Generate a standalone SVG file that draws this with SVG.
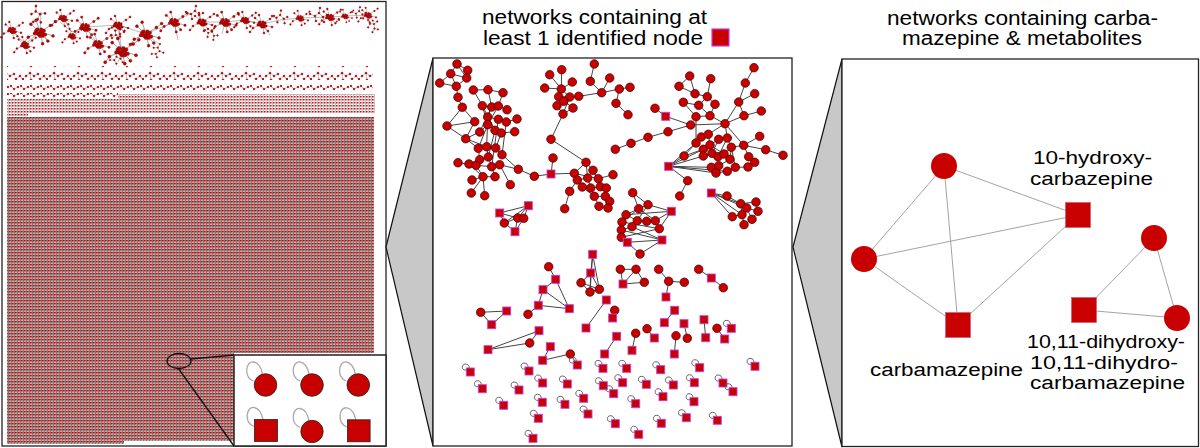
<svg xmlns="http://www.w3.org/2000/svg" xmlns:xlink="http://www.w3.org/1999/xlink" width="1200" height="448" viewBox="0 0 1200 448">
<style>
.t{font-family:"Liberation Sans",Arial,sans-serif;font-size:20px;fill:#000;text-anchor:middle}
.lb{font-size:18px}
.fr{fill:#fff;stroke:#222;stroke-width:1.3}
.tri{fill:#c8c8c8;stroke:#111;stroke-width:1.2}
.c{fill:#c80000;stroke:#3a0000;stroke-width:0.7}
.e{stroke:#444;stroke-width:1;fill:none}
.re{stroke:#999;stroke-width:0.9;fill:none}
.td{fill:#c80000;stroke:#6a0000;stroke-width:0.3}
.tl{stroke:#777;stroke-width:0.5;fill:none}
.bc{fill:#c80000}
.bs{fill:#c80000;stroke:#d06080;stroke-width:0.8}
.lp{fill:none;stroke:#aaa;stroke-width:1.3}
</style>
<defs>
<rect id="sq" x="-4" y="-4" width="8" height="8" fill="#c80000" stroke="#c040e0" stroke-width="0.9"/>
<g id="ls"><path d="M-4,-2 C-9,-1 -9,-8 -5,-8 C-2,-8 -1,-6 -1,-4" fill="none" stroke="#555" stroke-width="0.9"/><use href="#sq"/></g>
<pattern id="dg" width="3" height="3" patternUnits="userSpaceOnUse">
<rect width="3" height="3" fill="#eee"/><rect width="1.8" height="1.6" fill="#c00a0a"/><rect x="2" width="0.8" height="3" fill="#555"/><rect y="2.1" width="3" height="0.6" fill="#888"/>
</pattern>
<pattern id="lg" width="3" height="3" patternUnits="userSpaceOnUse">
<rect width="3" height="3" fill="#fff"/><rect width="1.6" height="1.5" fill="#c41010"/><rect x="2.2" width="0.5" height="3" fill="#888"/>
</pattern>
<pattern id="pr1" width="24" height="14" patternUnits="userSpaceOnUse">
<path class="tl" d="M2,6L6,3L10,6L14,4M6,3L7,10M16,9L20,6L23,9"/>
<g class="td"><circle cx="2" cy="6" r="1.1"/><circle cx="6" cy="3" r="1.1"/><circle cx="10" cy="6" r="1.1"/><circle cx="14" cy="4" r="1.1"/><circle cx="7" cy="10" r="1.1"/><circle cx="16" cy="9" r="1.1"/><circle cx="20" cy="6" r="1.1"/><circle cx="23" cy="9" r="1.1"/></g>
</pattern>
<pattern id="pr2" width="10" height="7" patternUnits="userSpaceOnUse">
<path class="tl" d="M1,2L4,5L8,3"/>
<g class="td"><circle cx="1" cy="2" r="1"/><circle cx="4" cy="5" r="1"/><circle cx="8" cy="3" r="1"/></g>
</pattern>
<g id="hub">
<path class="tl" d="M0,0L8,-5M0,0L10,3M0,0L-9,4M0,0L-7,-6M0,0L2,9M0,0L-3,-9M0,0L6,7M8,-5L12,-8M-9,4L-12,8M-2,1L3,-1M1,-2L0,3"/>
<g class="td"><circle cx="0" cy="0" r="1.3"/><circle cx="2" cy="1" r="1.3"/><circle cx="-2" cy="1" r="1.3"/><circle cx="1" cy="-2" r="1.3"/><circle cx="-1" cy="2" r="1.3"/><circle cx="3" cy="-1" r="1.3"/><circle cx="-3" cy="-1" r="1.3"/><circle cx="0" cy="3" r="1.3"/><circle cx="2" cy="3" r="1.3"/><circle cx="-2" cy="-2" r="1.3"/><circle cx="4" cy="2" r="1.3"/><circle cx="-4" cy="1" r="1.3"/><circle cx="8" cy="-5" r="1.1"/><circle cx="10" cy="3" r="1.1"/><circle cx="-9" cy="4" r="1.1"/><circle cx="-7" cy="-6" r="1.1"/><circle cx="2" cy="9" r="1.1"/><circle cx="-3" cy="-9" r="1.1"/><circle cx="6" cy="7" r="1.1"/><circle cx="12" cy="-8" r="1.1"/><circle cx="-12" cy="8" r="1.1"/></g>
</g>
<g id="tree">
<path class="tl" d="M0,0L5,2L9,-1L13,3L17,1M5,2L6,7M9,-1L10,-6M13,3L14,8"/>
<g class="td"><circle cx="0" cy="0" r="1.1"/><circle cx="5" cy="2" r="1.1"/><circle cx="9" cy="-1" r="1.1"/><circle cx="13" cy="3" r="1.1"/><circle cx="17" cy="1" r="1.1"/><circle cx="6" cy="7" r="1.1"/><circle cx="10" cy="-6" r="1.1"/><circle cx="14" cy="8" r="1.1"/></g>
</g>
</defs>
<rect width="1200" height="448" fill="#fff"/>

<!-- LEFT PANEL -->
<g id="all-networks">
<rect class="fr" x="2" y="1.5" width="384" height="444.5"/>
<g id="large-networks">
<path class="tl" d="M12,30L25,44L40,32L41,12M40,32L50,42M63,18L72,32L85,27L98,44M60,22L72,32M85,27L118,25L122,52M118,25L146,34L174,22L190,14M146,34L160,45M122,52L118,62M205,22L225,22L245,20L262,24L280,20L300,18L330,17L345,16L368,15M262,24L270,35M174,22L178,40M225,22L222,34"/>
<use href="#hub" transform="translate(12,30) scale(0.9)"/>
<use href="#hub" transform="translate(40,32) scale(1.3)"/>
<use href="#hub" transform="translate(25,45) scale(0.9)"/>
<use href="#hub" transform="translate(63,18) scale(0.9)"/>
<use href="#hub" transform="translate(85,27) scale(1.1)"/>
<use href="#hub" transform="translate(72,36) scale(0.8)"/>
<use href="#hub" transform="translate(98,44) scale(1.1)"/>
<use href="#hub" transform="translate(118,25) scale(1)"/>
<use href="#hub" transform="translate(122,51) scale(1.4)"/>
<use href="#hub" transform="translate(146,34) scale(1.3)"/>
<use href="#hub" transform="translate(174,22) scale(1.1)"/>
<use href="#hub" transform="translate(202,22) scale(1)"/>
<use href="#hub" transform="translate(225,22) scale(1.1)"/>
<use href="#hub" transform="translate(245,20) scale(0.9)"/>
<use href="#hub" transform="translate(262,24) scale(1)"/>
<use href="#hub" transform="translate(300,18) scale(0.8)"/>
<use href="#hub" transform="translate(330,17) scale(0.9)"/>
<use href="#hub" transform="translate(345,16) scale(0.7)"/>
<use href="#hub" transform="translate(368,15) scale(0.8)"/>
<use href="#tree" transform="translate(36,6) rotate(70)"/>
<use href="#tree" transform="translate(186,12)"/>
<use href="#tree" transform="translate(272,16) scale(0.9)"/>
<use href="#tree" transform="translate(310,14)"/>
<use href="#tree" transform="translate(352,12) scale(0.8)"/>
<use href="#tree" transform="translate(368,20) rotate(40) scale(0.8)"/>
<use href="#tree" transform="translate(112,38) rotate(-60) scale(0.9)"/>
<use href="#tree" transform="translate(160,44) rotate(100) scale(0.8)"/>
<use href="#tree" transform="translate(205,30) rotate(20) scale(0.8)"/>
<use href="#tree" transform="translate(110,60) rotate(-20) scale(0.8)"/>
</g>
<rect x="7" y="66" width="366" height="14" fill="url(#pr1)"/>
<rect x="7" y="84" width="366" height="8" fill="url(#pr2)"/>
<rect x="7" y="93" width="111" height="6" fill="url(#pr2)"/>
<rect x="118" y="94" width="257" height="5" fill="url(#lg)"/>
<rect x="7" y="99" width="368" height="14" fill="url(#lg)"/>
<rect x="7" y="113" width="21" height="3" fill="url(#lg)"/>
<path fill="url(#dg)" d="M7,117H374V353H234V441H124V444H7Z"/>
</g>

<g id="zoom-inset">
<ellipse cx="179" cy="361" rx="12" ry="7.5" fill="none" stroke="#111" stroke-width="1.3"/>
<path d="M191,359L234,355M178,368L234,446" stroke="#111" stroke-width="1.3" fill="none"/>
<rect x="234" y="355" width="152" height="91" fill="#fff" stroke="#222" stroke-width="1.5"/>
<g id="inset-n1" transform="translate(265.5,385)"><path class="lp" d="M-12,-4 C-22,-8 -20,-24 -12,-23 C-6,-22 -4,-16 -3,-11"/><circle class="bc" r="11.3" stroke="#222" stroke-width="0.8"/></g>
<g id="inset-n2" transform="translate(312,385)"><path class="lp" d="M-12,-4 C-22,-8 -20,-24 -12,-23 C-6,-22 -4,-16 -3,-11"/><circle class="bc" r="11.3" stroke="#222" stroke-width="0.8"/></g>
<g id="inset-n3" transform="translate(358.3,385)"><path class="lp" d="M-12,-4 C-22,-8 -20,-24 -12,-23 C-6,-22 -4,-16 -3,-11"/><circle class="bc" r="11.3" stroke="#222" stroke-width="0.8"/></g>
<g id="inset-n4" transform="translate(266,430.5)"><path class="lp" d="M-12,-4 C-22,-8 -20,-24 -12,-23 C-6,-22 -4,-16 -3,-11"/><rect x="-11.5" y="-11" width="23" height="22" fill="#c80000" stroke="#222" stroke-width="0.8"/></g>
<g id="inset-n5" transform="translate(312,431.5)"><path class="lp" d="M-12,-4 C-22,-8 -20,-24 -12,-23 C-6,-22 -4,-16 -3,-11"/><circle class="bc" r="11.2" stroke="#222" stroke-width="0.8"/></g>
<g id="inset-n6" transform="translate(358.8,430.8)"><path class="lp" d="M-12,-4 C-22,-8 -20,-24 -12,-23 C-6,-22 -4,-16 -3,-11"/><rect x="-11.3" y="-11" width="22.6" height="22" fill="#c80000" stroke="#222" stroke-width="0.8"/></g>
</g>

<!-- MIDDLE PANEL -->
<g id="identified-networks">
<polygon class="tri" points="386,247 433,58 433,446"/>
<rect class="fr" x="433" y="58" width="359" height="388"/>
<text class="t" x="594.5" y="24" textLength="225" lengthAdjust="spacingAndGlyphs">networks containing at</text>
<text class="t" x="593" y="44.5" textLength="220" lengthAdjust="spacingAndGlyphs">least 1 identified node</text>
<rect x="712" y="29" width="17" height="17" fill="#c80000" stroke="#c040e0" stroke-width="1.2"/>
<g id="mid-connectors">
<path class="e" d="M457,64L450.7,73.7M457,64L467.7,70.3M457,64L466.7,78M450.7,73.7L466.7,78M450.7,73.7L439.7,83M439.7,83L456.3,86.3M456.3,86.3L466.7,78M456.3,86.3L450.7,73.7M456.3,86.3L458,97.3M458,97.3L462.3,107.3M462.3,107.3L447,126M462.3,107.3L474.7,121.7M447,126L474.7,121.7M447,126L465.7,138.7M474.7,121.7L465.7,138.7M465.7,138.7L478.3,148.3M465.7,138.7L479.7,132M465.7,138.7L486.7,146.7
M473.3,90L488,89.7M488,89.7L503,92.7M473.3,90L482.3,105.7M488,89.7L491.7,107M503,92.7L498.3,106M482.3,105.7L491.7,107M491.7,107L498.3,106M498.3,106L507,109.7M491.7,107L487.7,117M487.7,117L498.3,119.3M498.3,119.3L506.3,122M506.3,122L517,119M487.7,124.7L495,130.3M495,130.3L501.3,133M501.3,133L514.7,131.7M487.7,117L487.7,124.7M482.3,105.7L487.7,124.7M479.7,132L487.7,124.7M486.7,146.7L478.3,148.3M486.7,146.7L495.7,148M478.3,148.3L479.7,159.7M486.7,146.7L488.3,157M495.7,148L502,154.7M488.3,157L479.7,159.7M479.7,159.7L469,164M479.7,159.7L476,165.3M488.3,157L491.7,166.7M491.7,166.7L499.7,164.7M499.7,164.7L518.3,169.3M476,165.3L483,176.7M483,176.7L495,176.7M483,176.7L472,180M483,176.7L471.3,193M483,176.7L484.7,195.7M458,162.7L476,165.3M510.3,184.7L499.7,164.7M518.3,169.3L534.3,176.3M534.3,176.3L551,174M551,174L553,158M551,174L574.3,173.3M487.7,117L486.7,146.7M495,130.3L488.3,157M498.3,119.3L491.7,166.7M487.7,124.7L478.3,148.3M501.3,133L495.7,148M506.3,122L502,154.7M491.7,107L479.7,132M476,165.3L491.7,166.7M469,164L483,176.7M495,176.7L491.7,166.7M502,154.7L518.3,169.3M482.3,105.7L495,130.3M498.3,106L487.7,124.7
M549.7,74.7L561.3,89M561.7,69.7L561.3,89M544.7,88L561.3,89M561.3,89L572.3,82M561.3,89L558.7,96.7M561.3,89L569.7,97M558.7,96.7L569.7,97M569.7,97L578.7,96.3M558.7,96.7L563.7,101.3M563.7,101.3L557,105.7M563.7,101.3L573,108M557,105.7L563,114M573,108L563,114M569.7,97L563,114M578.7,96.3L601.7,92.7M601.7,92.7L590.3,81.3M590.3,81.3L594.3,64M601.7,92.7L609.7,78M601.7,92.7L619.3,89M619.3,89L630,87.3M619.3,89L616,103.3M616,103.3L628,114.7M563,114L551,139.3M551,139.3L586,162.3M558.7,96.7L573,108M557,105.7L569.7,97
M586,162.3L574.3,173.3M586,162.3L587.7,178M586,162.3L593,170.3M574.3,173.3L577.3,180M577.3,180L587.7,178M587.7,178L593,170.3M593,170.3L598.3,178.7M598.3,178.7L600.3,186.7M587.7,178L590.7,188M590.7,188L582.3,187M582.3,187L577.3,180M590.7,188L600.3,186.7M600.3,186.7L606.3,188M606.3,188L605.3,196.3M605.3,196.3L594.3,196.3M594.3,196.3L590.7,188M605.3,196.3L609.7,201.3M605.3,196.3L608,208M594.3,196.3L599,206.3M599,206.3L608,208M598.3,178.7L613,174.7M577.3,180L569.7,191.3M569.7,191.3L564.7,208.7M574.3,173.3L598.3,178.7M582.3,187L594.3,196.3M593,170.3L600.3,186.7
M499.7,213L528.3,205.7M499.7,213L504.3,223M499.7,213L517.7,218M528.3,205.7L517.7,218M528.3,205.7L523.7,218.3M504.3,223L515,231.7M517.7,218L515,231.7M517.7,218L523.7,218.3M504.3,223L517.7,218M523.7,218.3L515,231.7M528.3,205.7L504.3,223
M615.3,149.3L631,143.3L648,137.3L668,131.7L690.7,125L725,123.7M655,108.3L665.7,116.3L690.7,125
M689.7,76L679,86.3M689.7,76L695,93.7M679,86.3L695,93.7M695,93.7L707.3,96.7M710.7,78.7L707.3,96.7M683.3,102.3L698.7,105.3M698.7,105.3L707.3,96.7M707.3,96.7L715,104.3M715,104.3L710,115.7M698.7,105.3L710,115.7M683.3,102.3L696,116.7M696,116.7L710,115.7M710,115.7L725,123.7M754,67.7L745.3,83M745.3,83L738.7,102M754.7,93.7L738.7,102M738.7,102L725,123.7M761.3,111L744,115.7M744,115.7L725,123.7M738.7,102L744,115.7M725,123.7L743.7,145.3M725,123.7L727.3,138M725,123.7L708.3,134.3M696,116.7L696,143M743.7,145.3L759.7,136.3M743.7,145.3L765.7,149.7M765.7,149.7L783,155.3M743.7,145.3L748.7,156.7M748.7,156.7L754.7,162.3M754.7,162.3L748,167M748,167L735.3,167.3M735.3,167.3L727.3,171.3M727.3,171.3L716,173M716,173L711.3,167.3M711.3,167.3L718.7,165.7M718.7,165.7L730,159.3M730,159.3L724,154M724,154L718,156.7M718,156.7L712,153.3M712,153.3L703.3,156M703.3,156L703.3,149.3M703.3,149.3L710,145M710,145L708.3,134.3M708.3,134.3L701.3,137M701.3,137L696,143M718.7,139.3L727.3,138M718.7,139.3L710,145M727.3,138L731.3,147.3M731.3,147.3L743.7,145.3M731.3,147.3L730,159.3M731.3,147.3L724,154M684,156L696,143M684,156L703.3,149.3M710,145L724,154M718.7,139.3L712,153.3M727.3,138L718,156.7M735.3,167.3L731.3,147.3
M668.7,166.3L684,156M668.7,166.3L703.3,156M668.7,166.3L711.3,167.3M668.7,166.3L716,173M668.7,166.3L727.3,171.3M668.7,166.3L703.3,149.3M668.7,166.3L696,143M668.7,166.3L687.7,180.7L679.7,196
M632.7,192.7L638.7,208.7M632.7,192.7L648,204.7M638.7,208.7L648,204.7M638.7,208.7L626,214.7M626,214.7L622,222M626,214.7L637.3,220.7M637.3,220.7L646.7,221.3M646.7,221.3L655.3,220.7M648,204.7L671.3,211.3M655.3,220.7L671.3,211.3M659.3,228.7L671.3,211.3M622,222L621.3,230M621.3,230L621.3,237.3M632,226.7L637.3,220.7M632,226.7L621.3,230M627.3,242.3L621.3,237.3M627.3,242.3L640,254M640,254L662,240M627.3,242.3L662,240M621.3,230L662,240M622,222L659.3,228.7M632,226.7L662,240M621.3,237.3L659.3,228.7M638.7,208.7L655.3,220.7M648,204.7L637.3,220.7M626,214.7L671.3,211.3M622,222L638.7,208.7
M711.3,193L727,196M711.3,193L740.7,203.7M711.3,193L742,214.7M711.3,193L732.3,216.7M711.3,193L746.7,208M727,196L740.7,203.7M740.7,203.7L756,202M756,202L758,211.3M758,211.3L752,219.3M752,219.3L744,224.7M744,224.7L742,214.7M742,214.7L732.3,216.7M746.7,208L740.7,203.7M746.7,208L742,214.7M746.7,208L758,211.3M746.7,208L752,219.3M740.7,203.7L742,214.7
M592.7,254.3L590.7,273M592.7,254.3L590,292M592.7,254.3L599.3,289.3M590.7,273L581,282.7M590.7,273L590,292M590.7,273L599.3,289.3M581,282.7L590,292M581,282.7L599.3,289.3M590,292L599.3,289.3
M548.7,266.7L555.7,279.3M555.7,279.3L543,289.7M555.7,279.3L569.3,308.7M543,289.7L538.3,305.3M543,289.7L569.3,308.7M538.3,305.3L569.3,308.7M538.3,305.3L528,314.3
M480.7,312.3L506.7,311M480.7,312.3L491.7,324.7M506.7,311L491.7,324.7M539,330.7L529.7,343M539,330.7L488,349.7M529.7,343L488,349.7M550.3,346.7L542.7,360.3M542.7,360.3L570.3,354M570.3,354L577.3,365M606.3,300L586,328
M620.3,269.3L636,269.3M620.3,269.3L623,284M636,269.3L623,284M636,269.3L644.3,282.3M623,284L644.3,282.3M658.7,269.3L668.7,281.3M668.7,281.3L684.3,282.3M668.7,281.3L666,297M698.7,269.3L711.3,278M711.3,278L723.3,287.7M614.7,310.3L612.7,318M674.7,310.3L664.3,322.7M684,323.7L687.3,338.3M704,319.7L705.7,337.7M717,328.3L724.7,339M635.7,333.3L632,350.3M647,328.7L654.3,338M676,335.7L674.3,354M616.7,336.3L604.7,354"/>
</g>
<g id="mid-circles">
<g class="c">
<circle cx="457" cy="64" r="4.3"/><circle cx="450.7" cy="73.7" r="4.3"/><circle cx="467.7" cy="70.3" r="4.3"/><circle cx="466.7" cy="78" r="4.3"/><circle cx="439.7" cy="83" r="4.3"/><circle cx="456.3" cy="86.3" r="4.3"/><circle cx="458" cy="97.3" r="4.3"/><circle cx="462.3" cy="107.3" r="4.3"/><circle cx="447" cy="126" r="4.3"/><circle cx="474.7" cy="121.7" r="4.3"/><circle cx="465.7" cy="138.7" r="4.3"/>
<circle cx="473.3" cy="90" r="4.3"/><circle cx="488" cy="89.7" r="4.3"/><circle cx="503" cy="92.7" r="4.3"/><circle cx="482.3" cy="105.7" r="4.3"/><circle cx="491.7" cy="107" r="4.3"/><circle cx="498.3" cy="106" r="4.3"/><circle cx="507" cy="109.7" r="4.3"/><circle cx="487.7" cy="117" r="4.3"/><circle cx="498.3" cy="119.3" r="4.3"/><circle cx="506.3" cy="122" r="4.3"/><circle cx="517" cy="119" r="4.3"/><circle cx="487.7" cy="124.7" r="4.3"/><circle cx="495" cy="130.3" r="4.3"/><circle cx="501.3" cy="133" r="4.3"/><circle cx="514.7" cy="131.7" r="4.3"/><circle cx="479.7" cy="132" r="4.3"/><circle cx="478.3" cy="148.3" r="4.3"/><circle cx="486.7" cy="146.7" r="4.3"/><circle cx="495.7" cy="148" r="4.3"/><circle cx="502" cy="154.7" r="4.3"/><circle cx="488.3" cy="157" r="4.3"/><circle cx="479.7" cy="159.7" r="4.3"/><circle cx="469" cy="164" r="4.3"/><circle cx="476" cy="165.3" r="4.3"/><circle cx="491.7" cy="166.7" r="4.3"/><circle cx="499.7" cy="164.7" r="4.3"/><circle cx="458" cy="162.7" r="4.3"/><circle cx="483" cy="176.7" r="4.3"/><circle cx="495" cy="176.7" r="4.3"/><circle cx="472" cy="180" r="4.3"/><circle cx="518.3" cy="169.3" r="4.3"/><circle cx="510.3" cy="184.7" r="4.3"/><circle cx="471.3" cy="193" r="4.3"/><circle cx="484.7" cy="195.7" r="4.3"/><circle cx="534.3" cy="176.3" r="4.3"/><circle cx="553" cy="158" r="4.3"/><circle cx="551" cy="139.3" r="4.3"/>
<circle cx="549.7" cy="74.7" r="4.3"/><circle cx="561.7" cy="69.7" r="4.3"/><circle cx="544.7" cy="88" r="4.3"/><circle cx="561.3" cy="89" r="4.3"/><circle cx="572.3" cy="82" r="4.3"/><circle cx="594.3" cy="64" r="4.3"/><circle cx="590.3" cy="81.3" r="4.3"/><circle cx="558.7" cy="96.7" r="4.3"/><circle cx="569.7" cy="97" r="4.3"/><circle cx="578.7" cy="96.3" r="4.3"/><circle cx="563.7" cy="101.3" r="4.3"/><circle cx="557" cy="105.7" r="4.3"/><circle cx="573" cy="108" r="4.3"/><circle cx="563" cy="114" r="4.3"/><circle cx="601.7" cy="92.7" r="4.3"/><circle cx="609.7" cy="78" r="4.3"/><circle cx="619.3" cy="89" r="4.3"/><circle cx="630" cy="87.3" r="4.3"/><circle cx="616" cy="103.3" r="4.3"/><circle cx="628" cy="114.7" r="4.3"/>
<circle cx="586" cy="162.3" r="4.3"/><circle cx="574.3" cy="173.3" r="4.3"/><circle cx="577.3" cy="180" r="4.3"/><circle cx="587.7" cy="178" r="4.3"/><circle cx="593" cy="170.3" r="4.3"/><circle cx="598.3" cy="178.7" r="4.3"/><circle cx="582.3" cy="187" r="4.3"/><circle cx="590.7" cy="188" r="4.3"/><circle cx="600.3" cy="186.7" r="4.3"/><circle cx="606.3" cy="188" r="4.3"/><circle cx="594.3" cy="196.3" r="4.3"/><circle cx="605.3" cy="196.3" r="4.3"/><circle cx="609.7" cy="201.3" r="4.3"/><circle cx="599" cy="206.3" r="4.3"/><circle cx="608" cy="208" r="4.3"/><circle cx="569.7" cy="191.3" r="4.3"/><circle cx="564.7" cy="208.7" r="4.3"/><circle cx="613" cy="174.7" r="4.3"/>
<circle cx="504.3" cy="223" r="4.3"/><circle cx="517.7" cy="218" r="4.3"/><circle cx="523.7" cy="218.3" r="4.3"/>
<circle cx="615.3" cy="149.3" r="4.3"/><circle cx="631" cy="143.3" r="4.3"/><circle cx="648" cy="137.3" r="4.3"/><circle cx="668" cy="131.7" r="4.3"/><circle cx="690.7" cy="125" r="4.3"/><circle cx="655" cy="108.3" r="4.3"/>
<circle cx="689.7" cy="76" r="4.3"/><circle cx="710.7" cy="78.7" r="4.3"/><circle cx="754" cy="67.7" r="4.3"/><circle cx="745.3" cy="83" r="4.3"/><circle cx="754.7" cy="93.7" r="4.3"/><circle cx="679" cy="86.3" r="4.3"/><circle cx="695" cy="93.7" r="4.3"/><circle cx="707.3" cy="96.7" r="4.3"/><circle cx="683.3" cy="102.3" r="4.3"/><circle cx="698.7" cy="105.3" r="4.3"/><circle cx="715" cy="104.3" r="4.3"/><circle cx="738.7" cy="102" r="4.3"/><circle cx="761.3" cy="111" r="4.3"/><circle cx="696" cy="116.7" r="4.3"/><circle cx="710" cy="115.7" r="4.3"/><circle cx="725" cy="123.7" r="4.3"/><circle cx="744" cy="115.7" r="4.3"/><circle cx="701.3" cy="137" r="4.3"/><circle cx="708.3" cy="134.3" r="4.3"/><circle cx="718.7" cy="139.3" r="4.3"/><circle cx="727.3" cy="138" r="4.3"/><circle cx="696" cy="143" r="4.3"/><circle cx="703.3" cy="149.3" r="4.3"/><circle cx="710" cy="145" r="4.3"/><circle cx="684" cy="156" r="4.3"/><circle cx="703.3" cy="156" r="4.3"/><circle cx="712" cy="153.3" r="4.3"/><circle cx="718" cy="156.7" r="4.3"/><circle cx="724" cy="154" r="4.3"/><circle cx="731.3" cy="147.3" r="4.3"/><circle cx="743.7" cy="145.3" r="4.3"/><circle cx="759.7" cy="136.3" r="4.3"/><circle cx="765.7" cy="149.7" r="4.3"/><circle cx="783" cy="155.3" r="4.3"/><circle cx="748.7" cy="156.7" r="4.3"/><circle cx="754.7" cy="162.3" r="4.3"/><circle cx="730" cy="159.3" r="4.3"/><circle cx="711.3" cy="167.3" r="4.3"/><circle cx="718.7" cy="165.7" r="4.3"/><circle cx="727.3" cy="171.3" r="4.3"/><circle cx="716" cy="173" r="4.3"/><circle cx="735.3" cy="167.3" r="4.3"/><circle cx="748" cy="167" r="4.3"/><circle cx="687.7" cy="180.7" r="4.3"/><circle cx="679.7" cy="196" r="4.3"/>
<circle cx="632.7" cy="192.7" r="4.3"/><circle cx="638.7" cy="208.7" r="4.3"/><circle cx="648" cy="204.7" r="4.3"/><circle cx="626" cy="214.7" r="4.3"/><circle cx="637.3" cy="220.7" r="4.3"/><circle cx="646.7" cy="221.3" r="4.3"/><circle cx="655.3" cy="220.7" r="4.3"/><circle cx="659.3" cy="228.7" r="4.3"/><circle cx="622" cy="222" r="4.3"/><circle cx="632" cy="226.7" r="4.3"/><circle cx="621.3" cy="230" r="4.3"/><circle cx="621.3" cy="237.3" r="4.3"/><circle cx="640" cy="254" r="4.3"/>
<circle cx="727" cy="196" r="4.3"/><circle cx="740.7" cy="203.7" r="4.3"/><circle cx="756" cy="202" r="4.3"/><circle cx="746.7" cy="208" r="4.3"/><circle cx="758" cy="211.3" r="4.3"/><circle cx="742" cy="214.7" r="4.3"/><circle cx="732.3" cy="216.7" r="4.3"/><circle cx="752" cy="219.3" r="4.3"/><circle cx="744" cy="224.7" r="4.3"/>
<circle cx="581" cy="282.7" r="4.3"/><circle cx="590" cy="292" r="4.3"/><circle cx="599.3" cy="289.3" r="4.3"/><circle cx="548.7" cy="266.7" r="4.3"/><circle cx="528" cy="314.3" r="4.3"/><circle cx="480.7" cy="312.3" r="4.3"/><circle cx="529.7" cy="343" r="4.3"/><circle cx="570.3" cy="354" r="4.3"/><circle cx="620.3" cy="269.3" r="4.3"/><circle cx="636" cy="269.3" r="4.3"/><circle cx="644.3" cy="282.3" r="4.3"/><circle cx="658.7" cy="269.3" r="4.3"/><circle cx="668.7" cy="281.3" r="4.3"/><circle cx="684.3" cy="282.3" r="4.3"/><circle cx="698.7" cy="269.3" r="4.3"/><circle cx="723.3" cy="287.7" r="4.3"/><circle cx="614.7" cy="310.3" r="4.3"/><circle cx="687.3" cy="338.3" r="4.3"/><circle cx="717" cy="328.3" r="4.3"/><circle cx="635.7" cy="333.3" r="4.3"/><circle cx="647" cy="328.7" r="4.3"/><circle cx="676" cy="335.7" r="4.3"/>
</g>
</g>
<g id="mid-squares">
<use href="#sq" x="551" y="174"/><use href="#sq" x="499.7" y="213"/><use href="#sq" x="528.3" y="205.7"/><use href="#sq" x="515" y="231.7"/><use href="#sq" x="665.7" y="116.3"/><use href="#sq" x="668.7" y="166.3"/><use href="#sq" x="671.3" y="211.3"/><use href="#sq" x="627.3" y="242.3"/><use href="#sq" x="662" y="240"/><use href="#sq" x="711.3" y="193"/>
<use href="#sq" x="592.7" y="254.3"/><use href="#sq" x="590.7" y="273"/><use href="#sq" x="555.7" y="279.3"/><use href="#sq" x="543" y="289.7"/><use href="#sq" x="538.3" y="305.3"/><use href="#sq" x="569.3" y="308.7"/><use href="#sq" x="506.7" y="311"/><use href="#sq" x="491.7" y="324.7"/><use href="#sq" x="539" y="330.7"/><use href="#sq" x="488" y="349.7"/><use href="#sq" x="550.3" y="346.7"/><use href="#sq" x="542.7" y="360.3"/><use href="#sq" x="606.3" y="300"/><use href="#sq" x="586" y="328"/><use href="#sq" x="623" y="284"/><use href="#sq" x="666" y="297"/><use href="#sq" x="711.3" y="278"/><use href="#sq" x="612.7" y="318"/><use href="#sq" x="674.7" y="310.3"/><use href="#sq" x="664.3" y="322.7"/><use href="#sq" x="684" y="323.7"/><use href="#sq" x="704" y="319.7"/><use href="#sq" x="705.7" y="337.7"/><use href="#sq" x="724.7" y="339"/><use href="#sq" x="632" y="350.3"/><use href="#sq" x="654.3" y="338"/><use href="#sq" x="674.3" y="354"/><use href="#sq" x="616.7" y="336.3"/><use href="#sq" x="604.7" y="354"/>
</g>
<g id="mid-selfloops">
<use href="#ls" x="470.3" y="372"/><use href="#ls" x="482.3" y="388.7"/><use href="#ls" x="503.7" y="405.3"/><use href="#ls" x="529" y="371"/><use href="#ls" x="519" y="390"/><use href="#ls" x="542.7" y="383"/><use href="#ls" x="542.3" y="402.3"/><use href="#ls" x="538.3" y="418.3"/><use href="#ls" x="533" y="438.3"/><use href="#ls" x="567.3" y="384"/><use href="#ls" x="565" y="404.3"/><use href="#ls" x="583.7" y="398.3"/><use href="#ls" x="588" y="414"/><use href="#ls" x="603" y="368.3"/><use href="#ls" x="603.3" y="385.7"/><use href="#ls" x="577.3" y="365"/><use href="#ls" x="626.7" y="368.3"/><use href="#ls" x="660.7" y="369.7"/><use href="#ls" x="699.7" y="367.7"/><use href="#ls" x="755" y="366.3"/><use href="#ls" x="622.7" y="382.7"/><use href="#ls" x="646.3" y="384.3"/><use href="#ls" x="673.3" y="385"/><use href="#ls" x="694.3" y="382.7"/><use href="#ls" x="723" y="383"/><use href="#ls" x="733" y="391.7"/><use href="#ls" x="613.7" y="393.7"/><use href="#ls" x="663" y="396.7"/><use href="#ls" x="635.7" y="403.7"/><use href="#ls" x="694" y="401.7"/><use href="#ls" x="615.3" y="423.7"/><use href="#ls" x="661.3" y="423.3"/><use href="#ls" x="686.3" y="417.7"/><use href="#ls" x="717.3" y="420.3"/><use href="#ls" x="638.7" y="434.3"/><use href="#ls" x="731.3" y="328.3"/>
</g>
</g>

<!-- RIGHT PANEL -->
<g id="carbamazepine-networks">
<polygon class="tri" points="793,247 842,59 842,447"/>
<rect class="fr" x="842" y="59" width="356.5" height="387.5"/>
<text class="t" x="1022.5" y="24.5" textLength="271" lengthAdjust="spacingAndGlyphs">networks containing carba-</text>
<text class="t" x="1022" y="45" textLength="240" lengthAdjust="spacingAndGlyphs">mazepine &amp; metabolites</text>
<g id="right-connectors">
<path class="re" d="M944,166L864,259M944,166L1078,215M944,166L958,325M864,259L1078,215M864,259L958,325M1078,215L958,325M1154,238L1084,310M1154,238L1177,318M1084,310L1177,318"/>
</g>
<g id="node-a"><circle class="bc" cx="944" cy="166" r="13"/></g>
<g id="node-b"><circle class="bc" cx="864" cy="259" r="13"/></g>
<g id="node-hydroxycarbazepine"><rect class="bs" x="1065.5" y="202.5" width="25" height="25"/>
<text class="t lb" x="1092.5" y="164" textLength="119" lengthAdjust="spacingAndGlyphs">10-hydroxy-</text><text class="t lb" x="1091.5" y="184.5" textLength="123" lengthAdjust="spacingAndGlyphs">carbazepine</text></g>
<g id="node-carbamazepine"><rect class="bs" x="945.5" y="312.5" width="25" height="25"/>
<text class="t lb" x="946.5" y="376" textLength="153" lengthAdjust="spacingAndGlyphs">carbamazepine</text></g>
<g id="node-e"><circle class="bc" cx="1154" cy="238" r="13"/></g>
<g id="node-f"><circle class="bc" cx="1177" cy="318" r="13"/></g>
<g id="node-dihydroxy"><rect class="bs" x="1071.5" y="297.5" width="25" height="25"/>
<text class="t lb" x="1106" y="348" textLength="158" lengthAdjust="spacingAndGlyphs">10,11-dihydroxy-</text><text class="t lb" x="1104" y="368.5" textLength="148" lengthAdjust="spacingAndGlyphs">10,11-dihydro-</text><text class="t lb" x="1107.5" y="389" textLength="155" lengthAdjust="spacingAndGlyphs">carbamazepine</text></g>
</g>
</svg>
